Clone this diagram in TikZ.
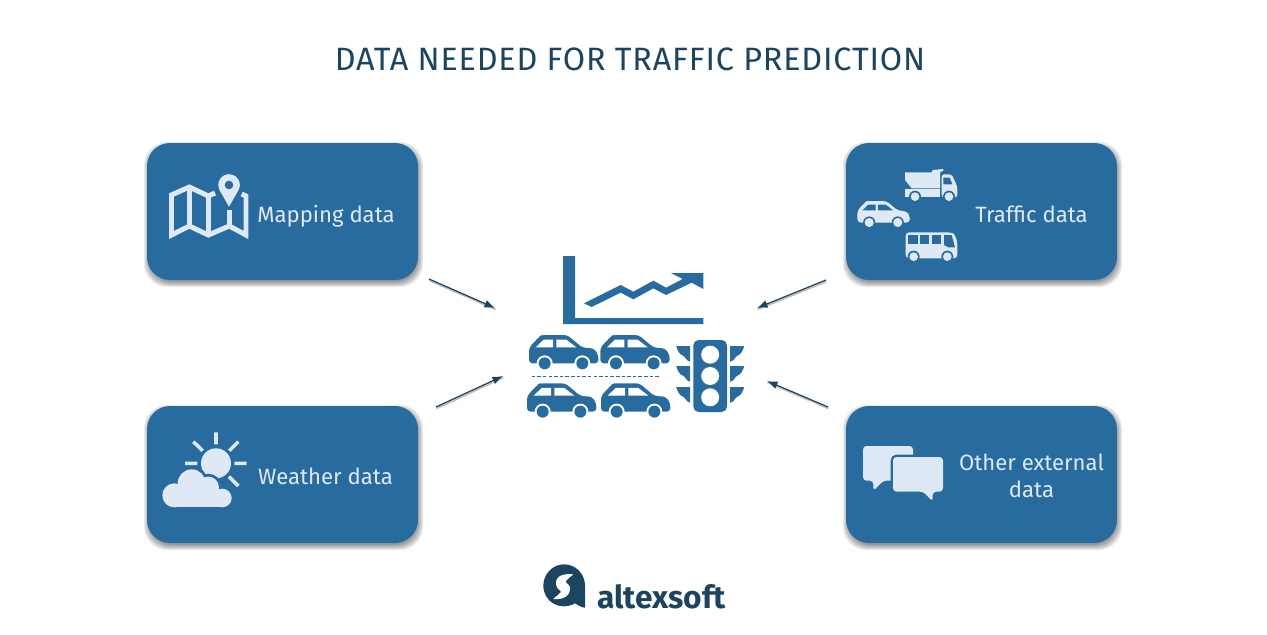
\documentclass[tikz,border=0pt]{standalone}
\usepackage{fontspec}
\setmainfont{Fira Sans}
\usetikzlibrary{arrows.meta}
\definecolor{boxblue}{HTML}{286B9E}
\definecolor{iconlight}{HTML}{DEE9F5}
\definecolor{navytext}{HTML}{1A4460}

\tikzset{
    databox/.style={fill=boxblue, rounded corners=0.46cm, minimum width=5.42cm, minimum height=2.74cm},
    boxlabel/.style={text=iconlight, font=\fontsize{12.6}{15}\selectfont},
    feedarrow/.style={navytext, line width=0.7pt, -{Latex[length=6pt,width=4.5pt]}},
    feedshadow/.style={black, opacity=0.25, line width=1pt},
    pics/carpic/.style 2 args={code={
        \fill[#1, rounded corners=2pt] (0,85) -- (0,38) -- (33,3) -- (40,0) -- (115,0) -- (160,38) -- (195,40) -- (208,60) -- (208,85) -- cycle;
        \fill[#2] (20,37) -- (44,14) -- (72,14) -- (72,37) -- cycle;
        \fill[#2] (82,14) -- (112,14) -- (142,37) -- (82,37) -- cycle;
        \foreach \wheelx in {47,160} {
            \fill[#2] (\wheelx,85) circle (24);
            \fill[#1] (\wheelx,85) circle (18);
        }
    }},
    pics/hoodpic/.style={code={
        \fill[boxblue] (-102,0) -- (-60,0) -- (-60,47) .. controls (-72,45) and (-75,32) .. (-80,30) .. controls (-92,26) and (-98,14) .. cycle;
        \fill[boxblue] (102,0) -- (60,0) -- (60,47) .. controls (72,45) and (75,32) .. (80,30) .. controls (92,26) and (98,14) .. cycle;
    }},
}

\begin{document}
\begin{tikzpicture}[x=0.02cm, y=-0.02cm]
    \useasboundingbox (0,0) rectangle (1267,635);

    \node[text=navytext, font=\fontsize{18.4}{22}\selectfont\addfontfeature{LetterSpace=2.5}] (title) at (630,59) {DATA NEEDED FOR TRAFFIC PREDICTION};

    \foreach \cx/\cy in {282.5/211.5, 981.5/211.5, 282.5/474.5, 981.5/474.5} {
        \foreach \grow in {-2,-1,0,1,2,3,4} {
            \fill[black, opacity=0.08, rounded corners=0.46cm] (\cx-135.5-\grow+1, \cy-68.5-\grow+3) rectangle (\cx+135.5+\grow+1, \cy+68.5+\grow+3);
        }
    }

    \node[databox] (mapping) at (282.5,211.5) {};
    \node[databox] (traffic) at (981.5,211.5) {};
    \node[databox] (weather) at (282.5,474.5) {};
    \node[databox] (external) at (981.5,474.5) {};

    \node[boxlabel, anchor=base] (mappinglabel) at (326,222.4) {Mapping data};
    \node[boxlabel, anchor=base] (trafficlabel) at (1031.5,222.4) {Traffic data};
    \node[boxlabel, anchor=base] (weatherlabel) at (325.5,484) {Weather data};
    \node[boxlabel, align=center] (externallabel) at (1031.5,476) {Other external\\[0.6pt]data};

    % map
    \draw[iconlight, line width=5pt*0.5669, miter limit=10] (215,193) -- (208.3,196) -- (189.3,187) -- (171.5,195) -- (171.5,235) -- (189.3,226) -- (208.3,235) -- (229.3,226) -- (246,235) -- (246,196) -- (241.7,194);
    \draw[iconlight, line width=5pt*0.5669] (189.3,187) -- (189.3,226) (208.3,196) -- (208.3,235) (229.3,210) -- (229.3,226);
    \fill[iconlight] (229,206.7) -- (219.5,190) arc (152:388:10.8) -- cycle;
    \fill[boxblue] (229,185) circle (4.3);

    % vehicles on the traffic box
    \pic[scale=0.253] at (857.3,201) {carpic={iconlight}{boxblue}};
    \begin{scope}[shift={(840,140)}, scale=1/3]
        \fill[iconlight] (195,97) -- (275,97) -- (278,90) -- (310,87) -- (310,92) -- (300,97) -- (300,145) -- (215,145) -- (195,120) -- cycle;
        \fill[iconlight] (195,148) -- (300,148) -- (300,172) -- (195,172) -- cycle;
        \fill[iconlight, rounded corners=1.5pt] (305,103) -- (335,103) -- (352,140) -- (352,172) -- (305,172) -- cycle;
        \fill[boxblue] (310,113) -- (329,113) -- (337,133) -- (310,133) -- cycle;
        \foreach \wheelx in {225,327} {
            \fill[boxblue] (\wheelx,170) circle (18);
            \fill[iconlight] (\wheelx,170) circle (13);
        }
        \fill[iconlight, rounded corners=2pt] (197,277) -- (335,277) -- (345,285) -- (352,305) -- (352,355) -- (197,355) -- cycle;
        \foreach \winx in {205,240,275} {
            \fill[boxblue] (\winx,285) rectangle (\winx+28,312);
        }
        \fill[boxblue] (312,285) -- (335,285) -- (345,322) -- (325,322) -- (312,315) -- cycle;
        \foreach \wheelx in {221,322} {
            \fill[boxblue] (\wheelx,350) circle (18);
            \fill[iconlight] (\wheelx,350) circle (13);
        }
    \end{scope}

    % sun and cloud
    \begin{scope}[shift={(140,400)}, scale=1/3]
        \fill[iconlight] (228,190) circle (45);
        \draw[iconlight, line width=2pt] (228,97) -- (228,133) (160,125) -- (188,152) (295,125) -- (268,152) (135,190) -- (172,190) (283,190) -- (320,190) (267,230) -- (295,258);
        \foreach \lobex/\lobey/\lober in {155/250/42, 205/262/32} {
            \filldraw[boxblue, line width=3.2pt] (\lobex,\lobey) circle (\lober);
        }
        \foreach \lobex/\lobey/\lober in {103/286/36, 155/250/42, 205/262/32, 247/294/28} {
            \fill[iconlight] (\lobex,\lobey) circle (\lober);
        }
        \fill[iconlight] (103,270) rectangle (247,322);
    \end{scope}

    % speech bubbles
    \begin{scope}[shift={(840,400)}, scale=1/3]
        \fill[iconlight, rounded corners=2pt] (69,138) -- (219,138) -- (219,242) -- (130,242) -- (100,273) -- (100,242) -- (69,242) -- cycle;
        \draw[boxblue, line width=2.6pt, rounded corners=2pt] (159,171) -- (309,171) -- (309,275) -- (278,275) -- (278,305) -- (250,275) -- (159,275) -- cycle;
        \fill[iconlight, rounded corners=2pt] (159,171) -- (309,171) -- (309,275) -- (278,275) -- (278,305) -- (250,275) -- (159,275) -- cycle;
    \end{scope}

    % centre picture
    \begin{scope}[shift={(510,240)}, scale=1/3]
        \fill[boxblue] (159,48) -- (195,48) -- (195,234) -- (580,234) -- (580,252) -- (159,252) -- cycle;
        \fill[boxblue] (222,190) -- (332,135) -- (370,155) -- (430,122) -- (468,143) -- (518,117) -- (483,99) -- (580,99) -- (580,147) -- (545,128) -- (468,165) -- (430,145) -- (370,178) -- (332,158) -- (245,201) -- cycle;
        \draw[boxblue, line width=0.55pt, dash pattern=on 2pt off 1.2pt] (65,409) -- (452,409);
        \fill[boxblue, rounded corners=3pt] (550,300) rectangle (651,516);
        \foreach \lampy in {344,408,472} {
            \fill[white] (600.5,\lampy) circle (27);
        }
    \end{scope}
    \foreach \hoody in {346,366,387} {
        \pic[scale=1/3] at (710.2,\hoody) {hoodpic};
    }
    \pic[scale=1/3] at (529,335) {carpic={boxblue}{white}};
    \pic[scale=1/3] at (600.3,335) {carpic={boxblue}{white}};
    \pic[scale=1/3] at (527,383.3) {carpic={boxblue}{white}};
    \pic[scale=1/3] at (601,383.3) {carpic={boxblue}{white}};

    % arrows
    \coordinate (mapfrom) at (429,279);
    \coordinate (mapto) at (495,308);
    \coordinate (trafficfrom) at (826,280);
    \coordinate (trafficto) at (757,308);
    \coordinate (weatherfrom) at (436,407);
    \coordinate (weatherto) at (503,376);
    \coordinate (externalfrom) at (828,407);
    \coordinate (externalto) at (767,381);
    \foreach \tail/\head in {mapfrom/mapto, trafficfrom/trafficto, weatherfrom/weatherto, externalfrom/externalto} {
        \draw[feedshadow] ([shift={(0.5,1.5)}]\tail) -- ([shift={(0.5,1.5)}]\head);
        \draw[feedarrow] (\tail) -- (\head);
    }

    % logo
    \begin{scope}[shift={(530,555)}, scale=1/3]
        \fill[navytext] (165,92) -- (165,158) .. controls (152,158) and (142,148) .. (135,145) .. controls (90,170) and (40,140) .. (40,92) arc (180:360:62.5 and 64);
        \fill[white] (130,58) .. controls (100,55) and (76,62) .. (78,88) .. controls (80,105) and (95,105) .. (92,112) .. controls (88,120) and (78,122) .. (70,132) .. controls (95,135) and (122,125) .. (120,98) .. controls (118,85) and (104,85) .. (108,78) .. controls (112,70) and (122,66) .. (130,58) -- cycle;
    \end{scope}
    \node[text=navytext, font=\fontsize{18}{20}\selectfont\bfseries, anchor=base west, inner sep=0pt] (logotext) at (597,608) {altexsoft};
\end{tikzpicture}
\end{document}
